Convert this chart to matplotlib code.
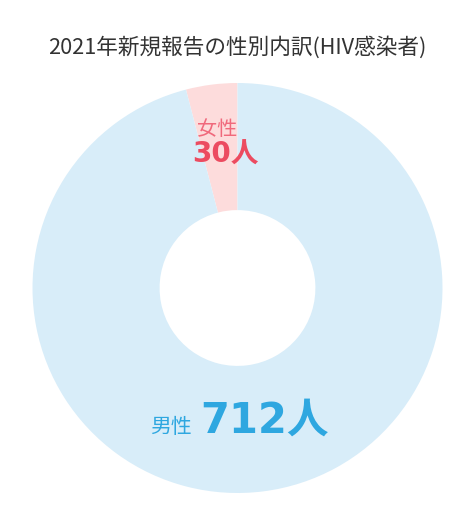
import matplotlib
matplotlib.use('Agg')
import matplotlib.pyplot as plt

plt.rcParams['font.family'] = ['Noto Sans CJK JP', 'DejaVu Sans']

title = '2021年新規報告の性別内訳(HIV感染者)'
labels = ['女性', '男性']
counts = [30, 712]
colors = ['#fddcdc', '#d8edf9']

W, H = 474, 508
fig = plt.figure(figsize=(W / 100, H / 100), dpi=100)

# pie centre / radius in pixels
cx, cy, r = 237.5, 288, 205
ax = fig.add_axes([(cx - r) / W, (H - cy - r) / H, 2 * r / W, 2 * r / H])
ax.pie(counts, colors=colors, startangle=90, counterclock=True, radius=1,
       wedgeprops=dict(width=0.62, linewidth=0))
ax.set_xlim(-1, 1)
ax.set_ylim(-1, 1)
ax.set_aspect('equal')
ax.axis('off')

fig.text(0.5, (H - 47) / H, title, ha='center', va='center', fontsize=15.6, color='#333333')

num_font = ['DejaVu Sans', 'Noto Sans CJK JP']

# female label
ax.text(-0.10, 0.746, labels[0], ha='center', va='baseline', fontsize=14.5, color='#f0697c')
ax.text(-0.061, 0.61, f'{counts[0]}人', ha='center', va='baseline', fontsize=20,
        fontweight='bold', color='#ec4b60', family=num_font)

# male label
ax.text(-0.427, -0.707, labels[1], ha='left', va='baseline', fontsize=15, color='#2ea7e0')
ax.text(-0.183, -0.707, f'{counts[1]}人', ha='left', va='baseline', fontsize=30,
        fontweight='bold', color='#2ea7e0', family=num_font)

fig.savefig('out.png', dpi=100)
